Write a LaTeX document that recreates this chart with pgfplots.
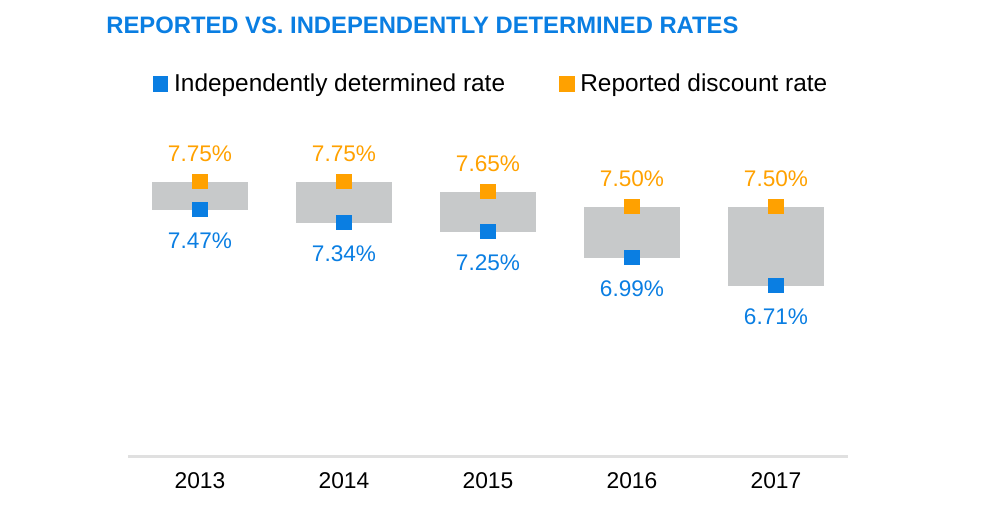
\documentclass[border=0pt]{standalone}
\usepackage{fontspec}
\setmainfont{Liberation Sans}
\usepackage{pgfplots}
\pgfplotsset{compat=1.18}
\usepackage{pgfplotstable}

\definecolor{cblue}{RGB}{10,126,226}
\definecolor{corange}{RGB}{255,161,0}
\definecolor{cgray}{RGB}{199,201,202}
\definecolor{cline}{RGB}{224,224,224}

\tikzset{value label/.style={font=\fontsize{11.3}{13}\selectfont, anchor=center}}

% year index, reported discount rate, independently determined rate
\pgfplotstableread{
x rep ind
0 7.75 7.47
1 7.75 7.34
2 7.65 7.25
3 7.50 6.99
4 7.50 6.71
}\rates

\begin{document}
\begin{tikzpicture}
\useasboundingbox (0,0) rectangle (500pt,262pt);
\begin{axis}[
  at={(64pt,33.65pt)}, anchor=south west,
  scale only axis, width=360pt, height=175pt,
  xmin=-0.5, xmax=4.5, ymin=5, ymax=8.5,
  axis x line=bottom, axis y line=none,
  x axis line style={draw=cline, line width=1.3pt, -},
  xtick={0,1,2,3,4}, xticklabels={2013,2014,2015,2016,2017},
  major tick length=0pt,
  ytick=\empty,
  xticklabel style={font=\fontsize{11.4}{13}\selectfont, text=black, anchor=base, yshift=-15.7pt},
  clip=false,
  every axis title shift=0pt,
  title={REPORTED VS. INDEPENDENTLY DETERMINED RATES},
  title style={at={(axis description cs:-0.0306,1.232)}, anchor=west,
    font=\fontsize{11.9}{14}\selectfont\bfseries, text=cblue, inner sep=0pt},
  legend style={at={(axis description cs:0.0347,1.0654)}, anchor=west,
    draw=none, fill=none, inner sep=0pt, outer sep=0pt,
    font=\fontsize{12.2}{14}\selectfont,
    nodes={inner sep=0pt},
    /tikz/every even column/.append style={column sep=27pt}},
  legend columns=2,
  legend cell align=left,
  legend image code/.code={\fill (0pt,-3.6pt) rectangle (7.2pt,3.6pt); \path (10.2pt,0pt);},
]
% gray range boxes between the two rates
\addplot[fill=cgray, draw=none, forget plot] coordinates {(-0.33,7.47) (0.33,7.47) (0.33,7.75) (-0.33,7.75)} --cycle;
\addplot[fill=cgray, draw=none, forget plot] coordinates {(0.67,7.34) (1.33,7.34) (1.33,7.75) (0.67,7.75)} --cycle;
\addplot[fill=cgray, draw=none, forget plot] coordinates {(1.67,7.25) (2.33,7.25) (2.33,7.65) (1.67,7.65)} --cycle;
\addplot[fill=cgray, draw=none, forget plot] coordinates {(2.67,6.99) (3.33,6.99) (3.33,7.50) (2.67,7.50)} --cycle;
\addplot[fill=cgray, draw=none, forget plot] coordinates {(3.67,6.71) (4.33,6.71) (4.33,7.50) (3.67,7.50)} --cycle;

% independently determined rate
\addplot[only marks, mark=square*, color=cblue, mark size=3.6pt, mark options={draw=none},
  nodes near coords={\pgfmathprintnumber[fixed,fixed zerofill,precision=2,assume math mode=true]{\pgfplotspointmeta}\%},
  every node near coord/.append style={value label, text=cblue, yshift=-15.5pt}]
  table[x=x, y=ind] {\rates};
\addlegendentry{Independently determined rate}

% reported discount rate
\addplot[only marks, mark=square*, color=corange, mark size=3.6pt, mark options={draw=none},
  nodes near coords={\pgfmathprintnumber[fixed,fixed zerofill,precision=2,assume math mode=true]{\pgfplotspointmeta}\%},
  every node near coord/.append style={value label, text=corange, yshift=14pt}]
  table[x=x, y=rep] {\rates};
\addlegendentry{Reported discount rate}
\end{axis}
\end{tikzpicture}
\end{document}
